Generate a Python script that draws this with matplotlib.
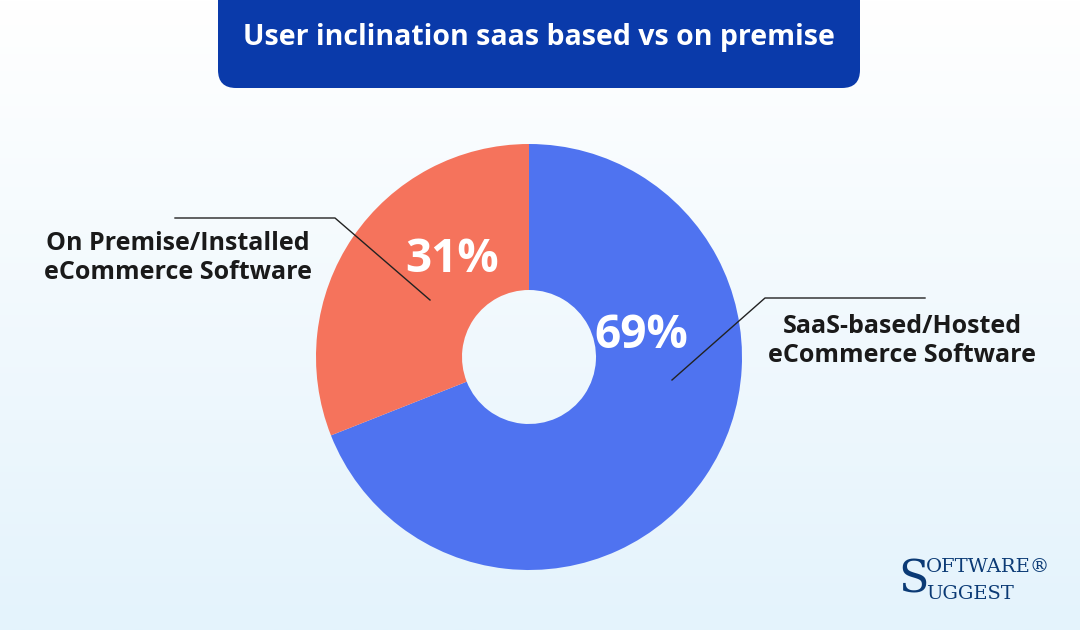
import matplotlib
matplotlib.use("Agg")
import matplotlib.pyplot as plt
import numpy as np
from matplotlib.patches import FancyBboxPatch

title = "User inclination saas based vs on premise"
labels = ["SaaS-based/Hosted\neCommerce Software", "On Premise/Installed\neCommerce Software"]
values = [69, 31]
colors = ["#4F73F0", "#F5735C"]

W, H = 1080, 630
fig = plt.figure(figsize=(10.8, 6.3), dpi=100)
ax = fig.add_axes([0, 0, 1, 1])
ax.set_xlim(0, W); ax.set_ylim(0, H); ax.set_aspect("equal"); ax.axis("off")

grad = np.linspace(0, 1, 256).reshape(-1, 1)
top = np.array([1.0, 1.0, 1.0]); bot = np.array([0xE4, 0xF3, 0xFC]) / 255
img = bot + (top - bot) * grad
ax.imshow(img.reshape(256, 1, 3), extent=[0, W, 0, H], origin="lower", aspect="auto", zorder=0)

fam = ["Open Sans", "DejaVu Sans"]
box = FancyBboxPatch((218, H - 88), 642, 120, boxstyle="round,pad=0,rounding_size=18",
                     fc="#0A3AAA", ec="none", zorder=1)
ax.add_patch(box)
ax.text(539, H - 38, title, color="white", fontsize=20.5, fontweight="bold",
        ha="center", va="center", family=fam, zorder=2)

cx, cy, R = 529, H - 357, 213
wedges, _ = ax.pie(values, colors=colors, startangle=90, counterclock=False,
                   center=(cx, cy), radius=R, wedgeprops=dict(width=R - 67, linewidth=0),
                   frame=True)
ax.set_xlim(0, W); ax.set_ylim(0, H); ax.axis("off")
for w in wedges: w.set_zorder(2)

ax.text(641, H - 336, f"{values[0]}%", color="white", fontsize=33, fontweight="bold",
        ha="center", va="center", family=fam, zorder=3)
ax.text(452, H - 260, f"{values[1]}%", color="white", fontsize=33, fontweight="bold",
        ha="center", va="center", family=fam, zorder=3)

ax.plot([925, 765, 672], [H - 298, H - 298, H - 380], color="#222222", lw=1, zorder=4)
ax.plot([175, 335, 430], [H - 218, H - 218, H - 300], color="#222222", lw=1, zorder=4)

ax.text(902, H - 341, labels[0], color="#1a1a1a", fontsize=18, fontweight="bold",
        ha="center", va="center", family=fam, linespacing=1.2, zorder=3)
ax.text(178, H - 258, labels[1], color="#1a1a1a", fontsize=18, fontweight="bold",
        ha="center", va="center", family=fam, linespacing=1.2, zorder=3)

lc = "#0B3A75"
ax.text(898, H - 580, "S", color=lc, fontsize=32, ha="left", va="center", family="DejaVu Serif", zorder=3)
ax.text(926, H - 567, "OFTWARE®", color=lc, fontsize=14, ha="left", va="center", family="DejaVu Serif", zorder=3)
ax.text(926, H - 594, "UGGEST", color=lc, fontsize=14, ha="left", va="center", family="DejaVu Serif", zorder=3)

fig.savefig("out.png", dpi=100)
